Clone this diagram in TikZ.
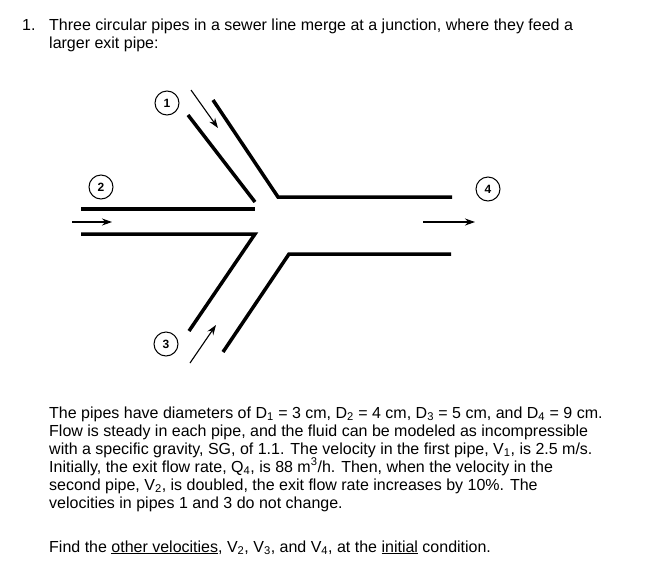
\documentclass[tikz,border=0pt]{standalone}
\usepackage{fontspec}
\setmainfont{Liberation Sans}
\usetikzlibrary{arrows.meta}
\begin{document}
\begin{tikzpicture}[x=1pt,y=-1pt,
  wall/.style={line width=3.5pt},
  flow/.style={line width=1.1pt,-{Stealth[length=10pt,width=7pt]}},
  lbl/.style={circle,draw,line width=1pt,minimum size=24pt,inner sep=0pt,font=\fontsize{12}{12}\selectfont\bfseries},
  txt/.style={anchor=base west,inner sep=0pt,font=\fontsize{16}{18}\selectfont}]
\useasboundingbox (0,0) rectangle (645,568);
% walls
\draw[wall] (188,115) -- (255,202);
\draw[wall] (213,100) -- (278,197) -- (452,197);
\draw[wall] (81,209) -- (255,209);
\draw[wall] (81,234) -- (255,234) -- (189,331);
\draw[wall] (223,352) -- (289,254) -- (451,254);
% flow arrows
\coordinate (a1s) at (191,90); \coordinate (a1e) at (218,128);
\coordinate (a2s) at (72,222); \coordinate (a2e) at (112,222);
\coordinate (a3s) at (190,363); \coordinate (a3e) at (216,325);
\coordinate (a4s) at (423,222); \coordinate (a4e) at (475,222);
\draw[flow] (a1s) -- (a1e);
\draw[flow] (a2s) -- (a2e);
\draw[flow] (a3s) -- (a3e);
\draw[flow] (a4s) -- (a4e);
% labels
\node[lbl] (n1) at (167,103) {1};
\node[lbl] (n2) at (101,187) {2};
\node[lbl] (n3) at (166,344) {3};
\node[lbl] (n4) at (488,189) {4};
% text
\node[txt] (t0) at (22,30) {1.};
\node[txt] (t1) at (49,30) {Three circular pipes in a sewer line merge at a junction, where they feed a};
\node[txt] (t2) at (49,48) {larger exit pipe:};
\node[txt] (p1) at (49,418) {The pipes have diameters of D\textsubscript{1} = 3 cm, D\textsubscript{2} = 4 cm, D\textsubscript{3} = 5 cm, and D\textsubscript{4} = 9 cm.};
\node[txt] (p2) at (49,436) {Flow is steady in each pipe, and the fluid can be modeled as incompressible};
\node[txt] (p3) at (49,454) {with a specific gravity, SG, of 1.1.  The velocity in the first pipe, V\textsubscript{1}, is 2.5 m/s.};
\node[txt] (p4) at (49,472) {Initially, the exit flow rate, Q\textsubscript{4}, is 88 m\textsuperscript{3}/h.  Then, when the velocity in the};
\node[txt] (p5) at (49,490) {second pipe, V\textsubscript{2}, is doubled, the exit flow rate increases by 10\%.  The};
\node[txt] (p6) at (49,508) {velocities in pipes 1 and 3 do not change.};
\node[txt] (p7) at (49,552) {Find the \underline{other velocities}, V\textsubscript{2}, V\textsubscript{3}, and V\textsubscript{4}, at the \underline{initial} condition.};
\end{tikzpicture}
\end{document}
